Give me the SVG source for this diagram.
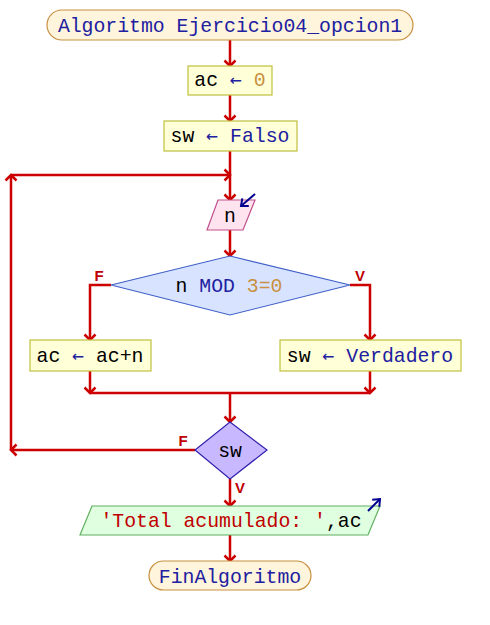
<svg xmlns="http://www.w3.org/2000/svg" width="490" height="625" viewBox="0 0 490 625">
<defs>
<style>
.t{font-family:"Liberation Mono","Courier New",monospace;font-size:19.8px;}
.ar{font-family:"DejaVu Sans Mono","Liberation Mono",monospace;}
.lb{font-family:"Liberation Sans",Arial,sans-serif;font-size:15px;font-weight:bold;fill:#c00000;}
.term{fill:#fff4dc;stroke:#c89040;stroke-width:1.2;}
.proc{fill:#ffffd8;stroke:#c0c040;stroke-width:1.2;}
.k{fill:#000000;}
.b{fill:#2020a0;}
.num{fill:#c89040;}
.str{fill:#c00000;}
.c{fill:none;stroke:#cc0000;stroke-width:2.5;}
.ic{fill:none;stroke:#000090;stroke-width:2;}
</style>
<marker id="ah" viewBox="-8 -8 10 16" markerWidth="10" markerHeight="16" refX="0" refY="0" orient="auto" markerUnits="userSpaceOnUse">
<path d="M-5.5,-5.5 L0,0 L-5.5,5.5" fill="none" stroke="#cc0000" stroke-width="2.5"/>
</marker>
<marker id="bh" viewBox="-8 -8 10 16" markerWidth="10" markerHeight="16" refX="0" refY="0" orient="auto" markerUnits="userSpaceOnUse">
<path d="M-6,-5 L0,0 L-6,5" fill="none" stroke="#000090" stroke-width="2"/>
</marker>
</defs>
<rect width="490" height="625" fill="#ffffff"/>
<g id="connectors">
<path class="c" d="M230,40 V66" marker-end="url(#ah)"/>
<path class="c" d="M230,95 V121" marker-end="url(#ah)"/>
<path class="c" d="M230,151 V200" marker-end="url(#ah)"/>
<path class="c" d="M230,230 V256" marker-end="url(#ah)"/>
<path class="c" d="M111,285 H90 V340" marker-end="url(#ah)"/>
<path class="c" d="M350,285 H370 V340" marker-end="url(#ah)"/>
<path class="c" d="M90,371 V393" marker-end="url(#ah)"/>
<path class="c" d="M370,371 V393" marker-end="url(#ah)"/>
<path class="c" d="M90,393 H370"/>
<path class="c" d="M230,393 V422" marker-end="url(#ah)"/>
<path class="c" d="M195,450 H11" marker-end="url(#ah)"/>
<path class="c" d="M11,450 V175" marker-end="url(#ah)"/>
<path class="c" d="M11,175 H230" marker-end="url(#ah)"/>
<path class="c" d="M230,479 V506" marker-end="url(#ah)"/>
<path class="c" d="M230,535 V561" marker-end="url(#ah)"/>
<text class="lb" x="99" y="281" text-anchor="middle">F</text>
<text class="lb" x="360" y="281" text-anchor="middle">V</text>
<text class="lb" x="183" y="446" text-anchor="middle">F</text>
<text class="lb" x="240" y="493" text-anchor="middle">V</text>
</g>
<g id="start">
<rect class="term" x="47" y="10" width="366" height="30" rx="15"/>
<text class="t b" x="230" y="32" text-anchor="middle">Algoritmo Ejercicio04_opcion1</text>
</g>
<g id="assign_ac">
<rect class="proc" x="188" y="66" width="84" height="29"/>
<text class="t" x="230" y="86" text-anchor="middle"><tspan class="k">ac </tspan><tspan class="b ar">←</tspan><tspan class="num"> 0</tspan></text>
</g>
<g id="assign_sw">
<rect class="proc" x="164" y="121" width="133" height="30"/>
<text class="t" x="230" y="142" text-anchor="middle"><tspan class="k">sw </tspan><tspan class="b ar">←</tspan><tspan class="b"> Falso</tspan></text>
</g>
<g id="read_n">
<polygon points="218,200 255,200 243,230 207,230" fill="#ffe4f0" stroke="#c0508a" stroke-width="1.2"/>
<text class="t k" x="230" y="222" text-anchor="middle">n</text>
<path class="ic" d="M255,194 L241,206" marker-end="url(#bh)"/>
</g>
<g id="cond_mod">
<polygon points="230,256 350,285 230,315 111,285" fill="#d8e4ff" stroke="#4060c8" stroke-width="1.2"/>
<text class="t" x="229" y="292" text-anchor="middle"><tspan class="k">n </tspan><tspan class="b">MOD</tspan><tspan class="num"> 3=0</tspan></text>
</g>
<g id="assign_acn">
<rect class="proc" x="30" y="340" width="121" height="31"/>
<text class="t" x="90" y="362" text-anchor="middle"><tspan class="k">ac </tspan><tspan class="b ar">←</tspan><tspan class="k"> ac+n</tspan></text>
</g>
<g id="assign_swv">
<rect class="proc" x="280" y="340" width="181" height="31"/>
<text class="t" x="370" y="362" text-anchor="middle"><tspan class="k">sw </tspan><tspan class="b ar">←</tspan><tspan class="b"> Verdadero</tspan></text>
</g>
<g id="cond_sw">
<polygon points="230,422 267,450 230,479 195,450" fill="#c8b8ff" stroke="#3020b0" stroke-width="1.2"/>
<text class="t k" x="230" y="457" text-anchor="middle">sw</text>
</g>
<g id="write_out">
<polygon points="92,506 380,506 368,535 80,535" fill="#e0ffe0" stroke="#60b060" stroke-width="1.2"/>
<text class="t" x="231" y="527" text-anchor="middle"><tspan class="str">'Total acumulado: '</tspan><tspan class="k">,ac</tspan></text>
<path class="ic" d="M368,511 L380,499" marker-end="url(#bh)"/>
</g>
<g id="end">
<rect class="term" x="149" y="561" width="162" height="29" rx="14.5"/>
<text class="t b" x="230" y="583" text-anchor="middle">FinAlgoritmo</text>
</g>
</svg>
